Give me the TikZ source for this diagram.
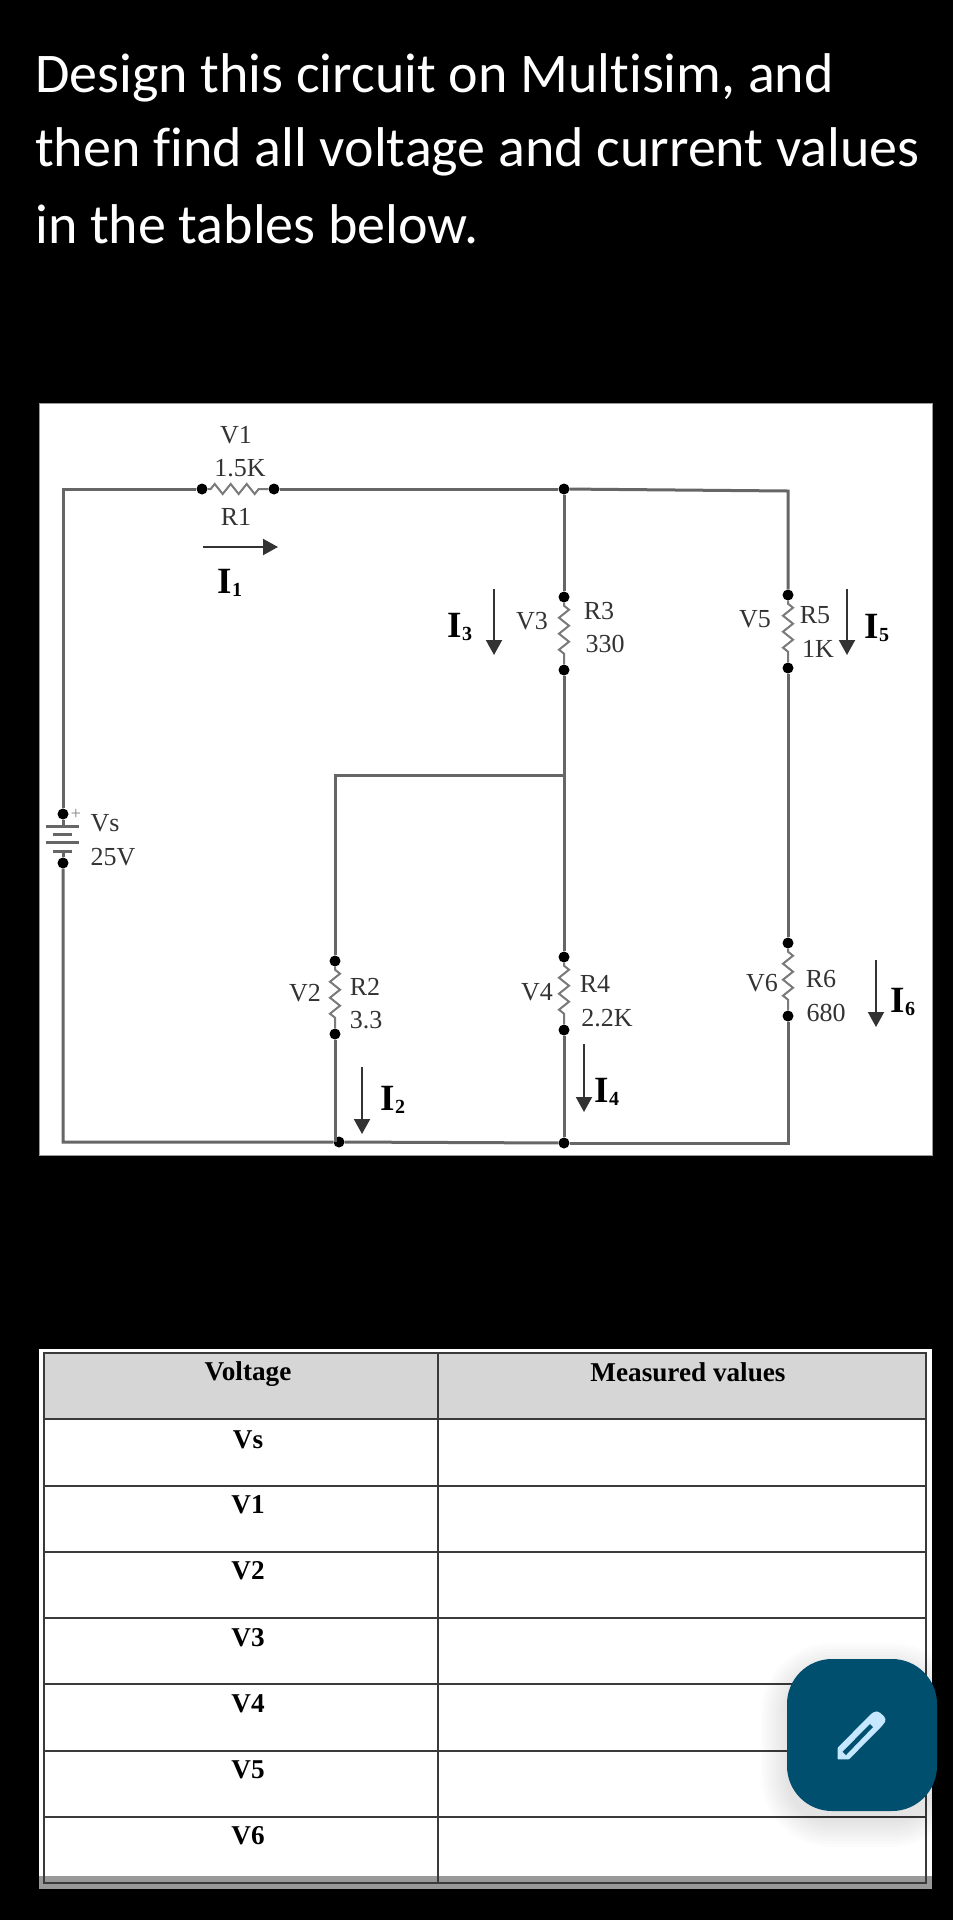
\documentclass[tikz,border=0pt]{standalone}
\usepackage{fontspec}
\usetikzlibrary{arrows.meta, decorations.pathmorphing}
\setmainfont{Liberation Serif}
\newfontfamily\titlefont[Ligatures=NoCommon]{Carlito}
\definecolor{wiregray}{HTML}{666666}
\definecolor{ziggray}{HTML}{7A7A7A}
\definecolor{labgray}{HTML}{333333}
\definecolor{headgray}{HTML}{D6D6D6}
\definecolor{stripegray}{HTML}{999999}
\definecolor{rulegray}{HTML}{3A3A3A}
\definecolor{fabteal}{HTML}{014F6E}
\definecolor{pencilblue}{HTML}{C5E7FF}
\newcommand{\labsize}{\fontsize{26}{28}\selectfont}
\newcommand{\cursize}{\fontsize{37}{39}\selectfont\bfseries}
\newcommand{\cellsize}{\fontsize{27.2}{29}\selectfont\bfseries}
\newcommand{\curlab}[1]{I\raisebox{-3.5pt}{\fontsize{20}{20}\selectfont #1}}

\begin{document}
\begin{tikzpicture}[x=1pt, y=-1pt,
        junct/.style={circle, fill=black, inner sep=0, minimum size=11},
        wire/.style={draw=wiregray, line width=3},
        zig/.style={draw=ziggray, line width=2, decorate,
            decoration={zigzag, amplitude=5, segment length=16, pre length=3, post length=3}},
        plate/.style={draw=wiregray, line width=3},
        lab/.style={inner sep=0, text=labgray, font=\labsize},
        curtext/.style={inner sep=0, text=black, font=\cursize},
        curarrow/.style={draw=labgray, line width=2, -{Triangle[length=15pt, width=16pt]}},
        titleline/.style={inner sep=0, anchor=base west, text=white, font=\titlefont\fontsize{56}{58}\selectfont},
        cell/.style={inner sep=0, text=black, font=\cellsize},
        tablerule/.style={draw=rulegray, line width=1.5}]
        \useasboundingbox (0, 0) rectangle (953, 1920);
        \fill[black] (0, 0) rectangle (953, 1920);

        \node[titleline] at (35, 92)  (title1) {Design this circuit on Multisim, and};
        \node[titleline] at (35, 166) (title2) {then find all voltage and current values};
        \node[titleline] at (35, 243) (title3) {in the tables below.};

        \fill[white, draw=stripegray] (39, 403) rectangle (932, 1155);

        \node[junct] at (63, 814)   (vstop) {};
        \node[junct] at (63, 863)   (vsbot) {};
        \node[junct] at (202, 489)  (r1a) {};
        \node[junct] at (274, 489)  (r1b) {};
        \node[junct] at (564, 489)  (topj) {};
        \node[junct] at (564, 597)  (r3a) {};
        \node[junct] at (564, 670)  (r3b) {};
        \node[junct] at (788, 595)  (r5a) {};
        \node[junct] at (788, 668)  (r5b) {};
        \node[junct] at (335, 961)  (r2a) {};
        \node[junct] at (335, 1034) (r2b) {};
        \node[junct] at (564, 957)  (r4a) {};
        \node[junct] at (564, 1030) (r4b) {};
        \node[junct] at (788, 943)  (r6a) {};
        \node[junct] at (788, 1016) (r6b) {};
        \node[junct] at (339, 1142) (botj2) {};
        \node[junct] at (564, 1143) (botj4) {};

        \coordinate (cornertl) at (63, 489);
        \coordinate (cornertr) at (788, 491);
        \coordinate (cornerbl) at (63, 1142);
        \coordinate (cornerbr) at (788, 1143);
        \coordinate (midl) at (335, 775);
        \coordinate (midr) at (564, 775);
        \coordinate (r2foot) at (335, 1142);

        \draw[wire] (vstop) -- (cornertl) -- (r1a);
        \draw[wire] (r1b) -- (topj);
        \draw[wire] (topj) -- (cornertr) -- (r5a);
        \draw[wire] (topj) -- (r3a);
        \draw[wire] (r3b) -- (r4a);
        \draw[wire] (r5b) -- (r6a);
        \draw[wire] (midr) -- (midl) -- (r2a);
        \draw[wire] (r2b) -- (r2foot);
        \draw[wire] (r4b) -- (botj4);
        \draw[wire] (r6b) -- (cornerbr) -- (botj4);
        \draw[wire] (botj4) -- (botj2) -- (cornerbl) -- (vsbot);

        \draw[zig] (r1a) -- (r1b);
        \draw[zig] (r2a) -- (r2b);
        \draw[zig] (r3a) -- (r3b);
        \draw[zig] (r4a) -- (r4b);
        \draw[zig] (r5a) -- (r5b);
        \draw[zig] (r6a) -- (r6b);

        \coordinate (plate1a) at (46, 826);
        \coordinate (plate1b) at (79, 826);
        \coordinate (plate2a) at (53, 834);
        \coordinate (plate2b) at (72, 834);
        \coordinate (plate3a) at (46, 842);
        \coordinate (plate3b) at (79, 842);
        \coordinate (plate4a) at (53, 851);
        \coordinate (plate4b) at (72, 851);
        \coordinate (stub1) at (63, 826);
        \coordinate (stub4) at (63, 851);
        \draw[plate] (plate1a) -- (plate1b);
        \draw[plate] (plate2a) -- (plate2b);
        \draw[plate] (plate3a) -- (plate3b);
        \draw[plate] (plate4a) -- (plate4b);
        \draw[plate] (vstop) -- (stub1);
        \draw[plate] (vsbot) -- (stub4);

        \node[lab, text=gray, font=\fontsize{18}{18}\selectfont] at (76, 814) (vsplus) {+};
        \node[lab] at (105, 823)  (vsname) {Vs};
        \node[lab] at (113, 857)  (vsval) {25V};
        \node[lab] at (236, 435)  (v1) {V1};
        \node[lab] at (240, 468)  (r1val) {1.5K};
        \node[lab] at (236, 517)  (r1name) {R1};
        \node[lab] at (305, 993)  (v2) {V2};
        \node[lab] at (365, 987)  (r2name) {R2};
        \node[lab] at (366, 1020) (r2val) {3.3};
        \node[lab] at (532, 621)  (v3) {V3};
        \node[lab] at (599, 611)  (r3name) {R3};
        \node[lab] at (605, 644)  (r3val) {330};
        \node[lab] at (537, 992)  (v4) {V4};
        \node[lab] at (595, 984)  (r4name) {R4};
        \node[lab] at (607, 1018) (r4val) {2.2K};
        \node[lab] at (755, 619)  (v5) {V5};
        \node[lab] at (815, 615)  (r5name) {R5};
        \node[lab] at (818, 649)  (r5val) {1K};
        \node[lab] at (762, 983)  (v6) {V6};
        \node[lab] at (821, 979)  (r6name) {R6};
        \node[lab] at (826, 1013) (r6val) {680};

        \node[curtext] at (230, 583)  (i1) {\curlab{1}};
        \node[curtext] at (393, 1100) (i2) {\curlab{2}};
        \node[curtext] at (460, 627)  (i3) {\curlab{3}};
        \node[curtext] at (607, 1092) (i4) {\curlab{4}};
        \node[curtext] at (877, 628)  (i5) {\curlab{5}};
        \node[curtext] at (903, 1002) (i6) {\curlab{6}};

        \coordinate (i1s) at (203, 547);
        \coordinate (i1e) at (278, 547);
        \coordinate (i2s) at (362, 1067);
        \coordinate (i2e) at (362, 1134);
        \coordinate (i3s) at (494, 589);
        \coordinate (i3e) at (494, 655);
        \coordinate (i4s) at (584, 1044);
        \coordinate (i4e) at (584, 1112);
        \coordinate (i5s) at (847, 589);
        \coordinate (i5e) at (847, 655);
        \coordinate (i6s) at (876, 960);
        \coordinate (i6e) at (876, 1027);
        \draw[curarrow] (i1s) -- (i1e);
        \draw[curarrow] (i2s) -- (i2e);
        \draw[curarrow] (i3s) -- (i3e);
        \draw[curarrow] (i4s) -- (i4e);
        \draw[curarrow] (i5s) -- (i5e);
        \draw[curarrow] (i6s) -- (i6e);

        \fill[white] (39, 1349) rectangle (932, 1889);
        \fill[headgray] (44, 1353) rectangle (926, 1419);
        \fill[stripegray] (39, 1876) rectangle (932, 1889);
        \draw[tablerule] (44, 1353) rectangle (926, 1883);
        \draw[tablerule] (438, 1353) -- (438, 1883);
        \foreach \rowy in {1419, 1486, 1552, 1618, 1684, 1751, 1817}
            \draw[tablerule] (44, \rowy) -- (926, \rowy);

        \node[cell] at (248, 1374) (voltage) {Voltage};
        \node[cell] at (688, 1372) (measured) {Measured values};
        \node[cell] at (248, 1440) (cellvs) {Vs};
        \node[cell] at (248, 1505) (cellv1) {V1};
        \node[cell] at (248, 1571) (cellv2) {V2};
        \node[cell] at (248, 1638) (cellv3) {V3};
        \node[cell] at (248, 1704) (cellv4) {V4};
        \node[cell] at (248, 1770) (cellv5) {V5};
        \node[cell] at (248, 1836) (cellv6) {V6};

        \foreach \grow in {2, 5, ..., 26}
            \fill[black, opacity=0.012, rounded corners=45+\grow]
                (787-\grow, 1669-\grow) rectangle (937+\grow, 1821+\grow);
        \node[fill=fabteal, rounded corners=45, inner sep=0, minimum width=150, minimum height=152] at (862, 1735) (fab) {};
        \fill[pencilblue, rounded corners=0.6] (837.7, 1759.3) -- (837.7, 1747.7) -- (871, 1714)
            [rounded corners=4] -- (877, 1710) -- (887, 1719) -- (883, 1725)
            [rounded corners=0.6] -- (849, 1759.3) -- cycle;
        \fill[fabteal] (842.7, 1751.7) -- (870, 1724) -- (873, 1727) -- (846, 1755) -- cycle;
    \end{tikzpicture}
\end{document}
